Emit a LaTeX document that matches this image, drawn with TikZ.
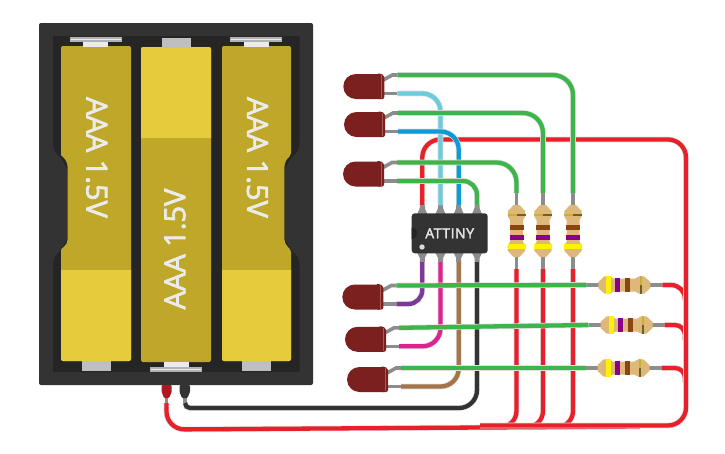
\documentclass[tikz,border=0pt]{standalone}
\usepackage{fontspec}
\usetikzlibrary{shapes.misc}
\newfontfamily\cellfont[FakeBold=2.5]{Open Sans}
\newfontfamily\chipfont[FakeBold=2.5,LetterSpace=4]{Open Sans}
\definecolor{caseout}{HTML}{333333}
\definecolor{casein}{HTML}{252525}
\definecolor{cellolive}{HTML}{BEA729}
\definecolor{cellyellow}{HTML}{E6CC3B}
\definecolor{ledred}{HTML}{7B1F1F}
\definecolor{ledrim}{HTML}{A85A5A}
\definecolor{leadgrey}{HTML}{8C8C8C}
\definecolor{resbody}{HTML}{DDB878}
\definecolor{bandpurple}{HTML}{8B008B}
\definecolor{bandbrown}{HTML}{8B4513}
\definecolor{bandgold}{HTML}{C9B030}
\definecolor{banddark}{HTML}{6B5F2A}
\definecolor{wgreen}{HTML}{3DB54A}
\definecolor{wcyan}{HTML}{6CCBDC}
\definecolor{wblue}{HTML}{0E9BD8}
\definecolor{wred}{HTML}{E8202A}
\definecolor{wpurple}{HTML}{7B3A96}
\definecolor{wpink}{HTML}{D9258F}
\definecolor{wbrown}{HTML}{A5754A}
\definecolor{wblack}{HTML}{333333}
\tikzset{
  wire/.style={line width=4.3pt, rounded corners=#1, preaction={draw=gray!25, line width=5.6pt}},
  wire/.default=18pt,
  lead/.style={draw=leadgrey, line width=3.6pt},
  celltext/.style={text=black!8, font=\cellfont\fontsize{29}{29}\selectfont, inner sep=0pt},
  chip/.style={fill=caseout, rounded corners=3pt, minimum width=76pt, minimum height=40pt, inner sep=0pt,
    text=black!10, font=\chipfont\fontsize{14}{15}\selectfont},
  ledbody/.style={fill=ledred, rounded rectangle, rounded rectangle right arc=none, minimum height=25pt, minimum width=37pt, inner sep=0pt},
  led/.pic={
    \draw [lead] (40,8) -- (49,3) -- (54,3) coordinate (-a);
    \draw [lead] (40,21.5) -- (54,21.5) coordinate (-k);
    \node (-body) [ledbody] at (18.5,14.5) {};
    \fill [ledred, rounded corners=2pt] (34,1) -- (41,3) -- (41,27) -- (34,27) -- cycle;
    \draw [ledrim, line width=1pt] (38.5,3) -- (38.5,26);
  },
  resistor/.pic={
    \draw [lead] (-38,0) coordinate (-l) -- (38,0) coordinate (-r);
    \fill [resbody] (-26,-3) -- (-20,-8.5) .. controls (-17,-9.5) and (-14,-9) .. (-11,-6.5) -- (11,-6.5)
      .. controls (14,-9) and (17,-9.5) .. (20,-8.5) -- (26,-3) -- (26,3) -- (20,8.5)
      .. controls (17,9.5) and (14,9) .. (11,6.5) -- (-11,6.5) .. controls (-14,9) and (-17,9.5) .. (-20,8.5) -- (-26,3) -- cycle;
    \fill [yellow] (-18,-9) rectangle (-13,9);
    \fill [bandpurple] (-9,-7) rectangle (-4,7);
    \fill [bandbrown] (1,-7) rectangle (6,7);
    \fill [bandgold] (15.5,-9) rectangle (17.5,0);
    \fill [banddark] (15.5,0) rectangle (17.5,9);
  },
}
\begin{document}
\begin{tikzpicture}[x=1pt,y=-1pt]
\useasboundingbox (0,0) rectangle (725,453);
\fill [white] (0,0) rectangle (725,453);
% battery holder
\fill [caseout, rounded corners=2pt] (39,23) rectangle (313,385);
\fill [casein] (53,36) -- (299.5,36) -- (299.5,143) .. controls (299.5,150) and (296,154) .. (291,158) -- (284,170) -- (284,238)
  -- (291,250) .. controls (296,254) and (299.5,258) .. (299.5,265) -- (299.5,372) -- (53,372) -- (53,265)
  .. controls (53,258) and (56,254) .. (61,250) -- (68,238) -- (68,170) -- (61,158) .. controls (56,154) and (53,150) .. (53,143) -- cycle;
\fill [cellolive, rounded corners=2pt] (61,46) -- (131,46) -- (131,361) -- (61,361) -- (61,252) [sharp corners]
  .. controls (61,248) and (67.7,246) .. (67.7,239) -- (67.7,168) .. controls (67.7,161) and (64,158) .. (61,155) [rounded corners=2pt] -- cycle;
\fill [cellyellow, rounded corners=2pt] (61,270) [sharp corners] -- (131,270) [rounded corners=2pt] -- (131,361) -- (61,361) [sharp corners] -- cycle;
\fill [cellolive, rounded corners=2pt] (141,47) rectangle (211,362);
\fill [cellyellow] (141,138) [rounded corners=2pt] -- (141,47) -- (211,47) [sharp corners] -- (211,138) -- cycle;
\fill [cellolive, rounded corners=2pt] (222,46) -- (291,46) -- (291,155) [sharp corners]
  .. controls (288,158) and (284.3,161) .. (284.3,168) -- (284.3,239) .. controls (284.3,246) and (291,248) .. (291,252)
  [rounded corners=2pt] -- (291,361) -- (222,361) -- cycle;
\fill [cellyellow, rounded corners=2pt] (222,270) [sharp corners] -- (291,270) [rounded corners=2pt] -- (291,361) -- (222,361) [sharp corners] -- cycle;
% terminals
\foreach \tx/\ty in {70/37.3,230/37.3,150/367} {
  \fill [black!30] (\tx,\ty) rectangle ++(52,4.5);
  \fill [black!8] (\tx+1,\ty+1.5) rectangle ++(50,1.5);
}
\foreach \tx/\ty in {83.3/41.8,244/41.8,164/362} \fill [black!8] (\tx,\ty) rectangle ++(25,5);
\foreach \tx/\ty in {161.7/38,81.7/361,242.3/361} \fill [black!25] (\tx,\ty) rectangle ++(29,9.5);
\node (TXTA) [celltext, rotate=-90] at (96.7,157.5) {AAA 1.5V};
\node (TXTB) [celltext, rotate=90] at (175,249) {AAA 1.5V};
\node (TXTC) [celltext, rotate=-90] at (257.3,157.5) {AAA 1.5V};
% battery plugs
\draw [lead] (166.5,395) -- (166.5,403) coordinate (BATP);
\draw [lead] (185,395) -- (185,403) coordinate (BATN);
\fill [wred!75!black, rounded corners=1pt] (161.7,385) -- (171.7,385) -- (171.7,392) -- (169,398) -- (164,398) -- (161.7,392) -- cycle;
\fill [wblack, rounded corners=1pt] (179.5,385) -- (190,385) -- (190,392) -- (187.5,398) -- (182,398) -- (179.5,392) -- cycle;
% leds
\pic (LEDA) at (343.3,72) {led};
\pic (LEDB) at (344,110) {led};
\pic (LEDC) at (343,159.5) {led};
\pic (LEDD) at (342.3,282.5) {led};
\pic (LEDE) at (345,324.8) {led};
\pic (LEDF) at (347,365) {led};
% resistors
\pic (RESA) [rotate=90] at (516.5,231) {resistor};
\pic (RESB) [rotate=90] at (543,231) {resistor};
\pic (RESC) [rotate=90] at (573,231) {resistor};
\pic (RESD) at (624.3,285) {resistor};
\pic (RESE) at (626.5,325) {resistor};
\pic (RESF) at (623.5,368) {resistor};
% chip
\foreach \i/\px in {1/422.3,2/440.5,3/458.7,4/477} {
  \coordinate (TOP\i) at (\px,205);
  \coordinate (BOT\i) at (\px,262);
  \fill [leadgrey] (\px-2.5,204) -- (\px+2.5,204) -- (\px+2.5,208) -- (\px+5,214) -- (\px-5,214) -- (\px-2.5,208) -- cycle;
  \fill [leadgrey] (\px-2.5,263) -- (\px+2.5,263) -- (\px+2.5,258) -- (\px+5,253) -- (\px-5,253) -- (\px-2.5,258) -- cycle;
}
\node (IC) [chip] at (449.7,233.3) {ATTINY};
\fill [casein] (411.7,227.5) arc (-90:90:5.7);
\fill [black!15] (422,247) circle (2.7);
% junctions on the return line
\coordinate (JNA) at (497,427);
\coordinate (JNB) at (525,427);
\coordinate (JNC) at (553,427);
\coordinate (JND) at (685,300);
\coordinate (JNE) at (685,340);
\coordinate (JNF) at (685,382);
\coordinate (JNG) at (640,426.5);
\coordinate (JNH) at (480,425.5);
% red wires
\draw [wire=16pt, wred] (RESA-l) |- (JNA);
\draw [wire=16pt, wred] (RESB-l) |- (JNB);
\draw [wire=16pt, wred] (RESC-l) |- (JNC);
\draw [wire=14pt, wred] (RESD-r) -| (JND);
\draw [wire=10pt, wred] (RESE-r) -| (JNE);
\draw [wire=10pt, wred] (RESF-r) -| (JNF);
\draw [wire, wred] (BATP) -- (166.5,429.5) -- (JNG);
\draw [wire, wred] (TOP1) |- (686,139.5) -- (686,425.5) -- (JNH);
% chip wires
\draw [wire, wcyan] (LEDA-k) -| (TOP2);
\draw [wire, wblue] (LEDB-k) -| (TOP3);
\draw [wire=14pt, wgreen] (LEDC-k) -| (TOP4);
\draw [wire=14pt, wpurple] (LEDD-k) -| (BOT1);
\draw [wire, wpink] (LEDE-k) -| (BOT2);
\draw [wire, wbrown] (LEDF-k) -| (BOT3);
\draw [wire, wblack] (BATN) [rounded corners=5pt] -- (185,408) [rounded corners=18pt] -| (BOT4);
% green wires
\draw [wire=20pt, wgreen] (LEDA-a) -| (RESC-r);
\draw [wire=20pt, wgreen] (LEDB-a) -| (RESB-r);
\draw [wire=20pt, wgreen] (LEDC-a) -| (RESA-r);
\draw [wire, wgreen] (LEDD-a) -- (RESD-l);
\draw [wire, wgreen] (LEDE-a) -- (RESE-l);
\draw [wire, wgreen] (LEDF-a) -- (RESF-l);
\end{tikzpicture}
\end{document}
